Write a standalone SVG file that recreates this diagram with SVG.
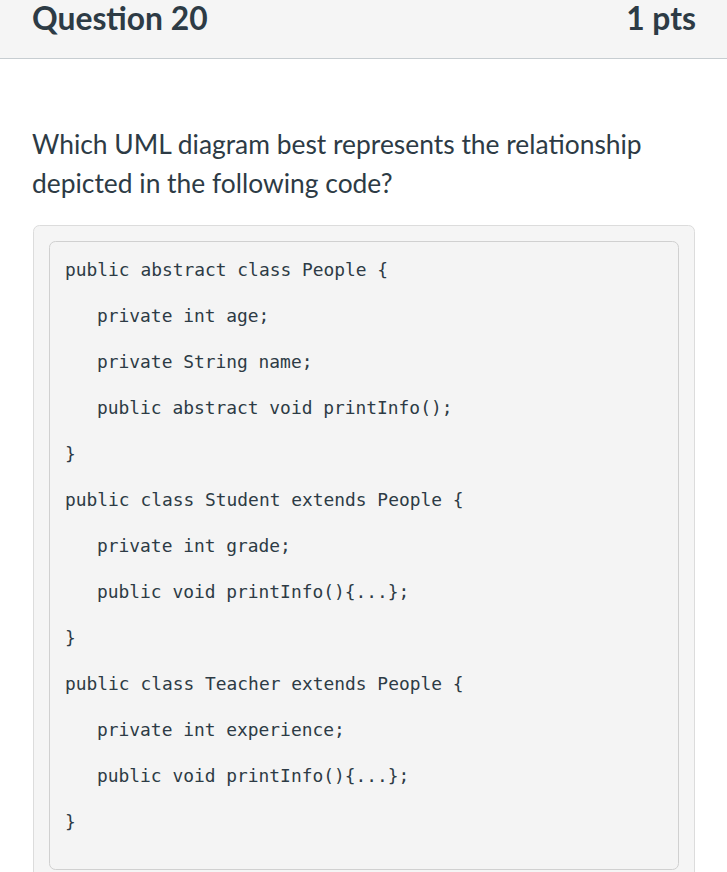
<svg xmlns="http://www.w3.org/2000/svg" width="727" height="872" viewBox="0 0 727 872">
<style>
.h{font-family:Lato,"Open Sans",sans-serif;font-weight:bold;font-size:31.8px;fill:#2d3b45}
.q{font-family:Lato,"Open Sans",sans-serif;font-size:26.4px;fill:#2d3b45}
.c{font-family:"DejaVu Sans Mono","Liberation Mono",monospace;font-size:17.9px;fill:#2d3b45}
</style>
<rect width="727" height="872" fill="#ffffff"/>
<rect x="0" y="0" width="727" height="58" fill="#f5f5f5"/>
<line x1="0" y1="58.5" x2="727" y2="58.5" stroke="#c7cdd1" stroke-width="1"/>
<text class="h" x="32" y="30">Question 20</text>
<text class="h" x="696" y="30" text-anchor="end">1 pts</text>
<text class="q" x="32" y="154">Which UML diagram best represents the relationship</text>
<text class="q" x="32" y="193">depicted in the following code?</text>
<rect x="33.5" y="225.5" width="661" height="660" rx="6" fill="#f5f5f5" stroke="#dcdcdc"/>
<rect x="49.5" y="241.5" width="629" height="628" rx="6" fill="#f4f4f4" stroke="#d0d0d0"/>
<g class="c">
<text class="c" x="65" y="276">public abstract class People {</text>
<text class="c" x="97" y="322">private int age;</text>
<text class="c" x="97" y="368">private String name;</text>
<text class="c" x="97" y="414">public abstract void printInfo();</text>
<text class="c" x="65" y="460">}</text>
<text class="c" x="65" y="506">public class Student extends People {</text>
<text class="c" x="97" y="552">private int grade;</text>
<text class="c" x="97" y="598">public void printInfo(){...};</text>
<text class="c" x="65" y="644">}</text>
<text class="c" x="65" y="690">public class Teacher extends People {</text>
<text class="c" x="97" y="736">private int experience;</text>
<text class="c" x="97" y="782">public void printInfo(){...};</text>
<text class="c" x="65" y="828">}</text>
</g>
</svg>
